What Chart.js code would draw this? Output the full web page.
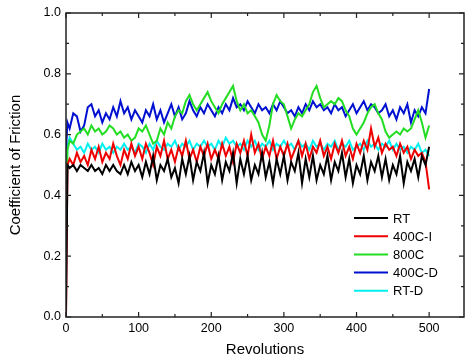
<!DOCTYPE html>
<html>
<head>
<meta charset="utf-8">
<script src="https://cdn.jsdelivr.net/npm/chart.js@4/dist/chart.umd.min.js"></script>
<style>
  html, body { margin: 0; padding: 0; background: #fff; }
  #wrap { width: 474px; height: 363px; }
</style>
</head>
<body>
<div id="wrap"><canvas id="cof"></canvas></div>
<script>
// --- data (revolutions 0, 2, then every 5) ---
const revs = [0, 2];
for (let r = 5; r <= 500; r += 5) revs.push(r);

const seriesNames = ['RT', '400C-I', '800C', '400C-D', 'RT-D'];
const seriesColors = ['#000000', '#ee0000', '#22dd22', '#0010d0', '#00f0f0'];

const rt = [0.02, 0.50,
  0.49, 0.50, 0.48, 0.50, 0.49, 0.48, 0.50, 0.48, 0.49, 0.47,
  0.50, 0.48, 0.50, 0.48, 0.47, 0.50, 0.47, 0.51, 0.48, 0.50,
  0.46, 0.51, 0.47, 0.53, 0.45, 0.50, 0.48, 0.52, 0.46, 0.49,
  0.44, 0.52, 0.47, 0.53, 0.45, 0.51, 0.48, 0.54, 0.44, 0.50,
  0.47, 0.53, 0.45, 0.51, 0.48, 0.54, 0.44, 0.52, 0.47, 0.53,
  0.45, 0.50, 0.47, 0.54, 0.46, 0.51, 0.44, 0.52, 0.47, 0.53,
  0.45, 0.51, 0.48, 0.54, 0.44, 0.52, 0.46, 0.53, 0.45, 0.50,
  0.47, 0.53, 0.45, 0.51, 0.48, 0.54, 0.46, 0.52, 0.44, 0.50,
  0.47, 0.53, 0.45, 0.51, 0.48, 0.53, 0.46, 0.52, 0.45, 0.50,
  0.47, 0.53, 0.44, 0.51, 0.48, 0.52, 0.46, 0.53, 0.50, 0.56];

const c400i = [0.00, 0.50,
  0.52, 0.50, 0.54, 0.51, 0.53, 0.50, 0.55, 0.52, 0.56, 0.51,
  0.54, 0.52, 0.57, 0.53, 0.50, 0.55, 0.52, 0.57, 0.53, 0.56,
  0.52, 0.57, 0.54, 0.50, 0.56, 0.53, 0.58, 0.52, 0.55, 0.51,
  0.56, 0.53, 0.58, 0.52, 0.55, 0.51, 0.56, 0.53, 0.57, 0.52,
  0.55, 0.52, 0.57, 0.53, 0.56, 0.51, 0.57, 0.54, 0.58, 0.53,
  0.60, 0.54, 0.57, 0.52, 0.56, 0.53, 0.58, 0.52, 0.56, 0.53,
  0.57, 0.52, 0.55, 0.58, 0.53, 0.57, 0.52, 0.56, 0.54, 0.58,
  0.53, 0.56, 0.52, 0.57, 0.54, 0.58, 0.53, 0.56, 0.52, 0.57,
  0.54, 0.58, 0.55, 0.62, 0.56, 0.59, 0.54, 0.57, 0.55, 0.56,
  0.53, 0.57, 0.54, 0.56, 0.52, 0.55, 0.53, 0.54, 0.51, 0.42];

const c800 = [0.25, 0.55,
  0.58, 0.57, 0.60, 0.61, 0.62, 0.60, 0.63, 0.61, 0.62, 0.60,
  0.61, 0.63, 0.62, 0.60, 0.61, 0.59, 0.60, 0.58, 0.59, 0.62,
  0.61, 0.63, 0.60, 0.57, 0.58, 0.62, 0.60, 0.64, 0.62, 0.66,
  0.68, 0.67, 0.71, 0.73, 0.70, 0.68, 0.70, 0.72, 0.74, 0.71,
  0.69, 0.67, 0.70, 0.72, 0.74, 0.76, 0.71, 0.68, 0.70, 0.67,
  0.68, 0.66, 0.64, 0.60, 0.58, 0.63, 0.70, 0.73, 0.71, 0.70,
  0.66, 0.62, 0.65, 0.67, 0.66, 0.68, 0.70, 0.74, 0.76, 0.72,
  0.69, 0.70, 0.71, 0.70, 0.72, 0.71, 0.68, 0.66, 0.62, 0.60,
  0.62, 0.64, 0.67, 0.69, 0.70, 0.67, 0.65, 0.61, 0.59, 0.60,
  0.61, 0.60, 0.62, 0.61, 0.62, 0.65, 0.68, 0.64, 0.59, 0.63];

const c400d = [0.55, 0.64,
  0.62, 0.67, 0.66, 0.61, 0.63, 0.69, 0.70, 0.66, 0.68, 0.64,
  0.67, 0.65, 0.69, 0.66, 0.71, 0.67, 0.69, 0.65, 0.68, 0.66,
  0.64, 0.68, 0.66, 0.70, 0.65, 0.68, 0.64, 0.67, 0.70, 0.66,
  0.69, 0.65, 0.67, 0.71, 0.68, 0.66, 0.69, 0.67, 0.70, 0.68,
  0.66, 0.69, 0.67, 0.70, 0.68, 0.72, 0.69, 0.70, 0.68, 0.71,
  0.69, 0.67, 0.70, 0.68, 0.69, 0.67, 0.70, 0.68, 0.71, 0.69,
  0.67, 0.68, 0.66, 0.69, 0.67, 0.70, 0.68, 0.71, 0.69, 0.70,
  0.68, 0.69, 0.67, 0.70, 0.68, 0.69, 0.66, 0.68, 0.70, 0.67,
  0.69, 0.71, 0.68, 0.70, 0.69, 0.67, 0.68, 0.70, 0.66, 0.68,
  0.65, 0.69, 0.67, 0.70, 0.64, 0.68, 0.66, 0.69, 0.67, 0.75];

const rtd = [0.45, 0.56,
  0.59, 0.57, 0.55, 0.56, 0.54, 0.57, 0.55, 0.56, 0.54, 0.57,
  0.55, 0.56, 0.54, 0.56, 0.55, 0.57, 0.55, 0.56, 0.54, 0.57,
  0.56, 0.54, 0.57, 0.55, 0.58, 0.56, 0.55, 0.57, 0.56, 0.58,
  0.55, 0.57, 0.56, 0.58, 0.55, 0.57, 0.56, 0.58, 0.56, 0.57,
  0.55, 0.58, 0.56, 0.59, 0.57, 0.58, 0.56, 0.57, 0.55, 0.58,
  0.56, 0.58, 0.55, 0.57, 0.56, 0.58, 0.55, 0.57, 0.56, 0.58,
  0.56, 0.57, 0.55, 0.58, 0.56, 0.57, 0.55, 0.58, 0.56, 0.57,
  0.55, 0.57, 0.56, 0.58, 0.55, 0.57, 0.56, 0.58, 0.55, 0.56,
  0.57, 0.55, 0.58, 0.56, 0.57, 0.55, 0.57, 0.56, 0.58, 0.55,
  0.57, 0.55, 0.56, 0.54, 0.56, 0.55, 0.57, 0.54, 0.55, 0.53];

const seriesValues = [rt, c400i, c800, c400d, rtd];

// axis ticks
const xMajor = [0, 100, 200, 300, 400, 500];
const xMinor = [50, 150, 250, 350, 450];
const yMajor = [0.0, 0.2, 0.4, 0.6, 0.8, 1.0];
const yMinor = [0.1, 0.3, 0.5, 0.7, 0.9];

const FONT = "Arial, 'Liberation Sans', sans-serif";

// frame with inward ticks on all four sides
const frameTicks = {
  id: 'frameTicks',
  afterDraw(chart) {
    const { ctx, chartArea: a, scales: { x, y } } = chart;
    ctx.save();
    ctx.strokeStyle = '#222';
    ctx.lineWidth = 1.5;
    ctx.strokeRect(a.left, a.top, a.right - a.left, a.bottom - a.top);
    ctx.lineWidth = 1.2;
    ctx.beginPath();
    const xt = (v, len) => {
      const px = x.getPixelForValue(v);
      ctx.moveTo(px, a.bottom); ctx.lineTo(px, a.bottom - len);
      ctx.moveTo(px, a.top); ctx.lineTo(px, a.top + len);
    };
    const yt = (v, len) => {
      const py = y.getPixelForValue(v);
      ctx.moveTo(a.left, py); ctx.lineTo(a.left + len, py);
      ctx.moveTo(a.right, py); ctx.lineTo(a.right - len, py);
    };
    xMajor.forEach(v => xt(v, 5));
    xMinor.forEach(v => xt(v, 3));
    yMajor.forEach(v => yt(v, 5));
    yMinor.forEach(v => yt(v, 3));
    ctx.stroke();
    ctx.restore();
  }
};

// legend box inside the plot, lower right
const insideLegend = {
  id: 'insideLegend',
  afterDraw(chart) {
    const { ctx, chartArea: a } = chart;
    const x0 = a.right - 110, y0 = a.bottom - 99, rowH = 18.2;
    ctx.save();
    ctx.font = '13px ' + FONT;
    ctx.textBaseline = 'middle';
    chart.data.datasets.forEach((ds, i) => {
      const yy = y0 + i * rowH;
      ctx.strokeStyle = ds.borderColor;
      ctx.lineWidth = 2;
      ctx.beginPath();
      ctx.moveTo(x0, yy); ctx.lineTo(x0 + 34, yy);
      ctx.stroke();
      ctx.fillStyle = '#000';
      ctx.fillText(ds.label, x0 + 39, yy + 1);
    });
    ctx.restore();
  }
};

new Chart(document.getElementById('cof'), {
  type: 'line',
  data: {
    datasets: seriesNames.map((name, i) => ({
      label: name,
      data: revs.map((r, k) => ({ x: r, y: seriesValues[i][k] })),
      borderColor: seriesColors[i],
      borderWidth: 2,
      pointRadius: 0,
      tension: 0,
      fill: false
    }))
  },
  options: {
    responsive: true,
    maintainAspectRatio: false,
    animation: false,
    layout: { padding: { left: 0, top: 13, right: 10, bottom: 0 } },
    plugins: { legend: { display: false }, tooltip: { enabled: false } },
    scales: {
      x: {
        type: 'linear',
        min: 0, max: 548,
        afterBuildTicks: s => { s.ticks = xMajor.map(v => ({ value: v })); },
        afterFit: s => { s.height = 46; },
        grid: { display: false, tickLength: 0 },
        border: { display: false },
        ticks: { color: '#000', padding: 4, font: { family: FONT, size: 12.5 }, maxRotation: 0 },
        title: { display: true, text: 'Revolutions', color: '#000', padding: { top: 0, bottom: 4 }, font: { family: FONT, size: 15 } }
      },
      y: {
        min: 0, max: 1,
        afterBuildTicks: s => { s.ticks = yMajor.map(v => ({ value: v })); },
        afterFit: s => { s.width = 66; },
        grid: { display: false, tickLength: 0 },
        border: { display: false },
        ticks: { color: '#000', padding: 5, font: { family: FONT, size: 12.5 }, callback: v => v.toFixed(1) },
        title: { display: true, text: 'Coefficient of Friction', color: '#000', padding: { top: 7, bottom: 0 }, font: { family: FONT, size: 15 } }
      }
    }
  },
  plugins: [frameTicks, insideLegend]
});
</script>
</body>
</html>
